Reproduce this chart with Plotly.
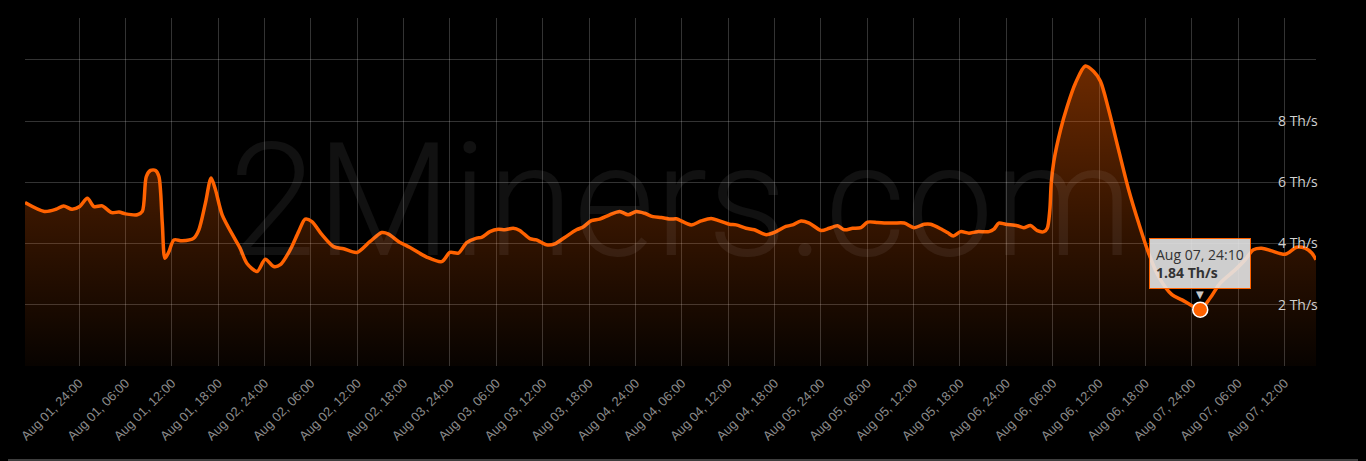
import plotly.graph_objects as go
import pandas as pd

# ---- data (hashrate, Th/s) ----
times = [
    "2024-07-31 17:00", "2024-07-31 19:30", "2024-07-31 21:00", "2024-07-31 22:00", "2024-07-31 23:05",
    "2024-08-01 00:05", "2024-08-01 01:04", "2024-08-01 01:56", "2024-08-01 03:00", "2024-08-01 04:13",
    "2024-08-01 05:10", "2024-08-01 06:01", "2024-08-01 07:32", "2024-08-01 08:11", "2024-08-01 08:42",
    "2024-08-01 09:15", "2024-08-01 09:54", "2024-08-01 10:20", "2024-08-01 10:46", "2024-08-01 11:07",
    "2024-08-01 11:38", "2024-08-01 12:16", "2024-08-01 13:20", "2024-08-01 14:51", "2024-08-01 15:30",
    "2024-08-01 16:21", "2024-08-01 17:05", "2024-08-01 17:39", "2024-08-01 18:31", "2024-08-01 20:14",
    "2024-08-01 20:50", "2024-08-01 21:44", "2024-08-01 23:02", "2024-08-02 00:06", "2024-08-02 01:11",
    "2024-08-02 02:03", "2024-08-02 03:20", "2024-08-02 04:25", "2024-08-02 05:16", "2024-08-02 06:08",
    "2024-08-02 07:26", "2024-08-02 08:56", "2024-08-02 10:14", "2024-08-02 11:57", "2024-08-02 13:40",
    "2024-08-02 15:11", "2024-08-02 16:03", "2024-08-02 17:20", "2024-08-02 18:50", "2024-08-02 20:59",
    "2024-08-02 22:56", "2024-08-03 00:00", "2024-08-03 01:05", "2024-08-03 02:10", "2024-08-03 03:27",
    "2024-08-03 04:05", "2024-08-03 05:10", "2024-08-03 06:15", "2024-08-03 07:06", "2024-08-03 08:11",
    "2024-08-03 09:02", "2024-08-03 10:20", "2024-08-03 11:12", "2024-08-03 12:29", "2024-08-03 13:34",
    "2024-08-03 14:51", "2024-08-03 16:22", "2024-08-03 17:14", "2024-08-03 18:18", "2024-08-03 19:22",
    "2024-08-03 20:40", "2024-08-03 21:58", "2024-08-03 23:03", "2024-08-04 00:07", "2024-08-04 01:11",
    "2024-08-04 02:16", "2024-08-04 03:21", "2024-08-04 04:38", "2024-08-04 05:17", "2024-08-04 07:13",
    "2024-08-04 08:31", "2024-08-04 09:48", "2024-08-04 10:53", "2024-08-04 12:10", "2024-08-04 13:02",
    "2024-08-04 14:19", "2024-08-04 15:24", "2024-08-04 16:55", "2024-08-04 18:12", "2024-08-04 19:29",
    "2024-08-04 20:21", "2024-08-04 21:26", "2024-08-04 22:30", "2024-08-05 00:01", "2024-08-05 01:05",
    "2024-08-05 02:10", "2024-08-05 03:02", "2024-08-05 04:07", "2024-08-05 05:11", "2024-08-05 06:03",
    "2024-08-05 07:20", "2024-08-05 08:25", "2024-08-05 09:29", "2024-08-05 10:47", "2024-08-05 12:04",
    "2024-08-05 13:22", "2024-08-05 14:13", "2024-08-05 15:44", "2024-08-05 16:23", "2024-08-05 17:09",
    "2024-08-05 18:05", "2024-08-05 19:10", "2024-08-05 20:15", "2024-08-05 21:45", "2024-08-05 22:24",
    "2024-08-05 23:02", "2024-08-05 23:55", "2024-08-06 01:25", "2024-08-06 02:16", "2024-08-06 03:08",
    "2024-08-06 04:01", "2024-08-06 04:52", "2024-08-06 05:18", "2024-08-06 05:38", "2024-08-06 05:49",
    "2024-08-06 06:09", "2024-08-06 07:01", "2024-08-06 07:53", "2024-08-06 08:57", "2024-08-06 10:14",
    "2024-08-06 11:19", "2024-08-06 12:11", "2024-08-06 13:15", "2024-08-06 14:32", "2024-08-06 15:50",
    "2024-08-06 17:08", "2024-08-06 18:25", "2024-08-06 19:43", "2024-08-06 21:26", "2024-08-06 22:44",
    "2024-08-07 00:01", "2024-08-07 01:06", "2024-08-07 02:23", "2024-08-07 03:41", "2024-08-07 05:37",
    "2024-08-07 06:55", "2024-08-07 07:59", "2024-08-07 09:04", "2024-08-07 10:22", "2024-08-07 12:05",
    "2024-08-07 13:35", "2024-08-07 14:40", "2024-08-07 15:32", "2024-08-07 16:05",
]
hashrate = [
    5.34, 5.05, 5.12, 5.23, 5.12,
    5.21, 5.48, 5.21, 5.23, 5.01,
    5.03, 4.97, 4.94, 5.05, 6.19,
    6.39, 6.39, 6.19, 4.67, 3.52,
    3.74, 4.12, 4.09, 4.18, 4.45,
    5.32, 6.14, 5.76, 4.94, 4.12,
    3.85, 3.35, 3.09, 3.49, 3.25,
    3.31, 3.80, 4.39, 4.80, 4.72,
    4.29, 3.90, 3.83, 3.71, 4.07,
    4.36, 4.31, 4.07, 3.87, 3.56,
    3.41, 3.71, 3.69, 4.03, 4.18,
    4.20, 4.39, 4.47, 4.45, 4.50,
    4.43, 4.16, 4.12, 3.96, 3.99,
    4.20, 4.45, 4.54, 4.75, 4.80,
    4.94, 5.05, 4.94, 5.05, 4.99,
    4.88, 4.85, 4.80, 4.81, 4.61,
    4.74, 4.82, 4.74, 4.63, 4.61,
    4.50, 4.45, 4.29, 4.39, 4.56,
    4.61, 4.74, 4.67, 4.43, 4.50,
    4.58, 4.45, 4.50, 4.52, 4.70,
    4.69, 4.67, 4.67, 4.67, 4.52,
    4.63, 4.63, 4.45, 4.36, 4.25,
    4.39, 4.34, 4.39, 4.39, 4.47,
    4.67, 4.63, 4.58, 4.52, 4.59,
    4.42, 4.39, 4.50, 5.10, 5.97,
    6.68, 7.71, 8.48, 9.24, 9.80,
    9.62, 9.30, 8.37, 7.06, 5.76,
    4.67, 3.69, 2.92, 2.33, 2.16,
    1.97, 1.84, 2.22, 2.71, 3.14,
    3.47, 3.80, 3.85, 3.76, 3.65,
    3.88, 3.85, 3.69, 3.47,
]

tick_vals = pd.date_range("2024-08-01 00:00", "2024-08-07 12:00", freq="6h")
tick_text = [
    "Aug 01, 24:00", "Aug 01, 06:00", "Aug 01, 12:00", "Aug 01, 18:00",
    "Aug 02, 24:00", "Aug 02, 06:00", "Aug 02, 12:00", "Aug 02, 18:00",
    "Aug 03, 24:00", "Aug 03, 06:00", "Aug 03, 12:00", "Aug 03, 18:00",
    "Aug 04, 24:00", "Aug 04, 06:00", "Aug 04, 12:00", "Aug 04, 18:00",
    "Aug 05, 24:00", "Aug 05, 06:00", "Aug 05, 12:00", "Aug 05, 18:00",
    "Aug 06, 24:00", "Aug 06, 06:00", "Aug 06, 12:00", "Aug 06, 18:00",
    "Aug 07, 24:00", "Aug 07, 06:00", "Aug 07, 12:00",
]
y_tick_vals = [2, 4, 6, 8, 10]
y_tick_text = ["2 Th/s", "4 Th/s", "6 Th/s", "8 Th/s", ""]

tooltip_time = "2024-08-07 01:06"
tooltip_value = 1.84
tooltip_label = "Aug 07, 24:10"

x = pd.to_datetime(times)

ORANGE = "#ff6200"

fig = go.Figure()
fig.add_trace(go.Scatter(
    x=x, y=hashrate, mode="lines",
    line=dict(color=ORANGE, width=3.5, shape="spline", smoothing=0.8),
    fill="tozeroy",
    fillgradient=dict(
        type="vertical",
        start=0, stop=10,
        colorscale=[[0, "rgba(255,98,0,0.03)"], [0.45, "rgba(255,98,0,0.20)"], [1, "rgba(255,98,0,0.43)"]],
    ),
    hoverinfo="skip",
))
fig.add_trace(go.Scatter(
    x=[pd.Timestamp(tooltip_time)], y=[tooltip_value], mode="markers",
    marker=dict(size=15, color=ORANGE, line=dict(color="white", width=1.5)),
    hoverinfo="skip",
))

# watermark
fig.add_annotation(
    text="2Miners.com", xref="paper", yref="paper", x=0.508, y=0.475,
    xanchor="center", yanchor="middle", showarrow=False,
    font=dict(family="Roboto", size=157, color="rgba(255,255,255,0.065)", weight=300),
)

# tooltip
fig.add_annotation(
    x=pd.Timestamp(tooltip_time), y=tooltip_value,
    text=f"{tooltip_label}<br><b>{tooltip_value:.2f} Th/s</b>",
    showarrow=False, xanchor="center", yanchor="bottom", yshift=21,
    align="left", bgcolor="rgba(228,228,228,0.9)", bordercolor=ORANGE, borderwidth=1, borderpad=6,
    font=dict(family="Open Sans", size=14, color="#333333"),
)
fig.add_annotation(
    x=pd.Timestamp(tooltip_time), y=tooltip_value, text="▼",
    showarrow=False, xanchor="center", yanchor="top", yshift=23,
    font=dict(family="DejaVu Sans", size=10, color="rgba(228,228,228,0.9)"),
)

fig.add_shape(type="line", xref="paper", yref="paper", x0=-0.02, x1=1.05, y0=-0.2701, y1=-0.2701,
              line=dict(color="#7a7a7a", width=1))

fig.update_layout(
    width=1358, height=453,
    margin=dict(l=15, r=50, t=10, b=95),
    paper_bgcolor="#000000", plot_bgcolor="#000000",
    showlegend=False, hovermode=False,
    xaxis=dict(
        range=[pd.Timestamp("2024-07-31 17:00"), pd.Timestamp("2024-08-07 16:05")],
        tickmode="array", tickvals=tick_vals, ticktext=tick_text, tickangle=-45,
        tickfont=dict(family="Liberation Sans", size=13, color="#8a8a8a"),
        showgrid=True, gridcolor="rgba(255,255,255,0.2)", gridwidth=1,
        zeroline=False, showline=False, ticks="", ticklabelstandoff=6,
    ),
    yaxis=dict(
        range=[0, 11.37], side="right", ticklabelposition="outside",
        ticklabelstandoff=-39,
        tickmode="array", tickvals=y_tick_vals, ticktext=y_tick_text,
        tickfont=dict(family="Open Sans", size=14, color="#d0d0d0"),
        showgrid=True, gridcolor="rgba(255,255,255,0.2)", gridwidth=1,
        zeroline=False, showline=False, ticks="",
    ),
)

fig.write_html("out.html", post_script="document.body.style.background='#000000';")
